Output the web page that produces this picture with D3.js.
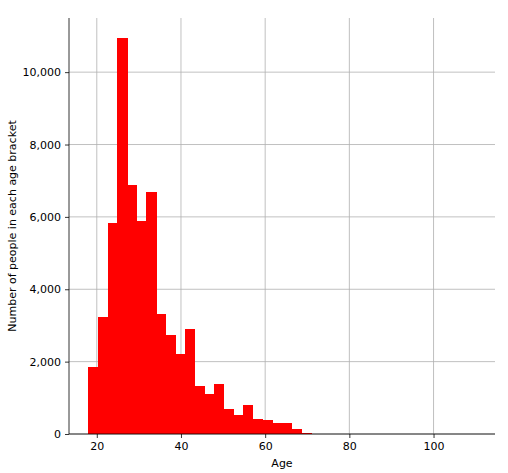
<!DOCTYPE html>
<html><head><meta charset="utf-8">
<script src="https://cdn.jsdelivr.net/npm/d3@7"></script>
<style>body{margin:0;background:#fff}svg{display:block}text{font-family:"DejaVu Sans",sans-serif}</style>
</head><body>
<svg id="c" width="508" height="473"></svg>
<script>
const binStart = 18, binEnd = 110, binCount = 40;
const counts = [1862, 3226, 5843, 10949, 6885, 5899, 6691, 3327, 2747, 2203,
                2908, 1340, 1105, 1368, 686, 525, 788, 424, 378, 313,
                313, 129, 37, 8, 4, 2, 1, 1, 0, 0,
                0, 0, 0, 0, 0, 0, 0, 0, 0, 1];
const xTicks = [20, 40, 60, 80, 100];
const yTicks = [0, 2000, 4000, 6000, 8000, 10000];
const xLabel = "Age";
const yLabel = "Number of people in each age bracket";

const W = 508, H = 473;
const m = {left: 69, top: 18, right: 495, bottom: 434};
const svg = d3.select("#c");
const span = binEnd - binStart;
const bw = span / binCount;
const bins = counts.map((c, i) => ({x0: binStart + i * bw, x1: binStart + (i + 1) * bw, c}));
const x = d3.scaleLinear().domain([binStart - 0.05 * span, binEnd + 0.05 * span]).range([m.left, m.right]);
const ymax = d3.max(counts);
const y = d3.scaleLinear().domain([0, ymax * 1.05]).range([m.bottom, m.top]);

// grid
const g = svg.append("g");
g.selectAll(".gx").data(xTicks).join("line")
  .attr("x1", d => x(d)).attr("x2", d => x(d)).attr("y1", m.top).attr("y2", m.bottom)
  .attr("stroke", "#b0b0b0").attr("stroke-width", 0.8);
g.selectAll(".gy").data(yTicks).join("line")
  .attr("x1", m.left).attr("x2", m.right).attr("y1", d => y(d)).attr("y2", d => y(d))
  .attr("stroke", "#b0b0b0").attr("stroke-width", 0.8);

// bars
svg.append("g").attr("shape-rendering", "crispEdges").selectAll("rect").data(bins).join("rect")
  .attr("x", d => x(d.x0)).attr("width", d => x(d.x1) - x(d.x0) + 0.5)
  .attr("y", d => y(d.c)).attr("height", d => y(0) - y(d.c))
  .attr("fill", "#ff0000");

// axes
const xa = svg.append("g").attr("transform", `translate(0,${m.bottom})`)
  .call(d3.axisBottom(x).tickValues(xTicks).tickSize(4).tickPadding(4).tickFormat(d3.format("d")));
const ya = svg.append("g").attr("transform", `translate(${m.left},0)`)
  .call(d3.axisLeft(y).tickValues(yTicks).tickSize(4).tickPadding(4).tickFormat(d3.format(",")));
[xa, ya].forEach(a => {
  a.selectAll("text").attr("font-size", 11).attr("font-family", "DejaVu Sans").attr("fill", "#000");
  a.selectAll("line").attr("stroke", "#000").attr("stroke-width", 0.8);
});
xa.select(".domain").attr("d", `M${m.left},0H${m.right}`).attr("stroke", "#000").attr("stroke-width", 0.8);
ya.select(".domain").attr("d", `M0,${m.top}V${m.bottom}`).attr("stroke", "#000").attr("stroke-width", 0.8);

svg.append("text").attr("x", (m.left + m.right) / 2).attr("y", 467)
  .attr("text-anchor", "middle").attr("font-size", 11).text(xLabel);
svg.append("text").attr("transform", `translate(16,${(m.top + m.bottom) / 2}) rotate(-90)`)
  .attr("text-anchor", "middle").attr("font-size", 11).text(yLabel);
</script>
</body></html>
